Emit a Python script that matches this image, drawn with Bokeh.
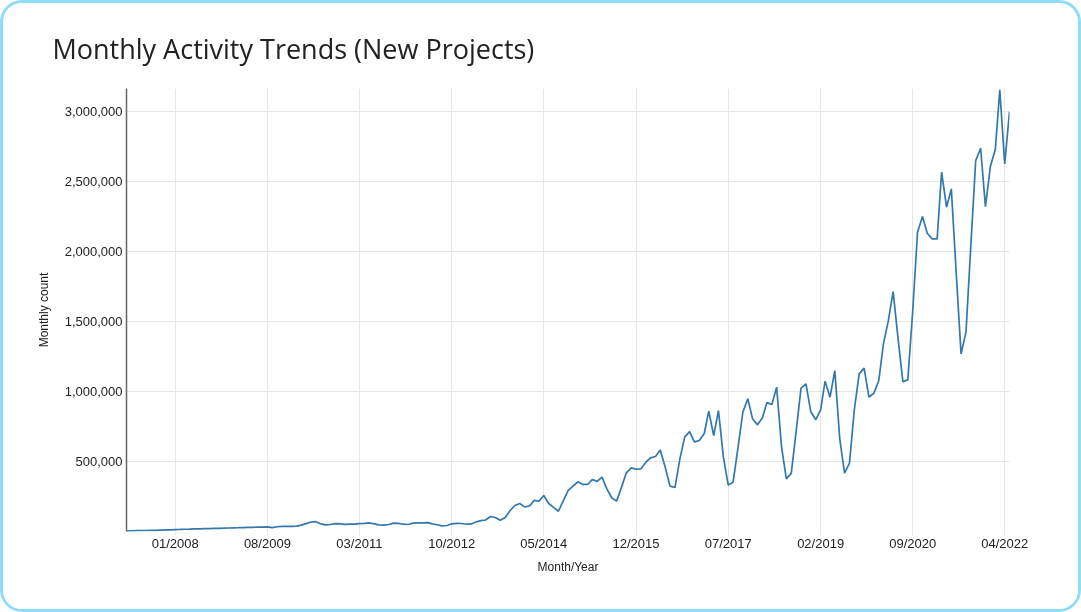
import pandas as pd
from bokeh.plotting import figure
from bokeh.models import Range1d, FixedTicker, DatetimeTickFormatter, NumeralTickFormatter
from bokeh.embed import file_html
from bokeh.resources import INLINE

title_text = "Monthly Activity Trends (New Projects)"
x_label = "Month/Year"
y_label = "Monthly count"
start_month = "2007-03"

monthly_counts = [
    3000, 5000, 6000, 7000, 7000, 8000, 8000, 10000, 11000, 12000,
    14000, 15000, 16000, 17000, 19000, 19000, 20000, 21000, 22000, 22000,
    24000, 25000, 26000, 27000, 28000, 30000, 30000, 32000, 31000, 33000,
    28000, 34000, 36000, 36000, 37000, 38000, 46000, 56000, 68000, 70000,
    55000, 47000, 50000, 56000, 55000, 51000, 52000, 53000, 56000, 58000,
    62000, 55000, 47000, 45000, 50000, 60000, 58000, 52000, 50000, 60000,
    62000, 61000, 63000, 55000, 48000, 40000, 43000, 55000, 58000, 57000,
    52000, 54000, 68000, 78000, 82000, 107000, 100000, 80000, 100000, 148000,
    186000, 200000, 176000, 182000, 222000, 216000, 257000, 200000, 172000, 145000,
    220000, 293000, 325000, 355000, 336000, 336000, 371000, 358000, 388000, 305000,
    241000, 217000, 317000, 419000, 455000, 445000, 448000, 495000, 526000, 536000,
    583000, 459000, 324000, 314000, 519000, 674000, 714000, 640000, 650000, 700000,
    860000, 686000, 864000, 531000, 333000, 352000, 602000, 852000, 948000, 805000,
    762000, 812000, 921000, 907000, 1031000, 602000, 376000, 417000, 721000, 1024000,
    1055000, 857000, 798000, 869000, 1074000, 960000, 1150000, 662000, 417000, 488000,
    876000, 1126000, 1167000, 960000, 988000, 1079000, 1340000, 1507000, 1714000, 1376000,
    1071000, 1083000, 1579000, 2138000, 2250000, 2131000, 2091000, 2091000, 2567000, 2317000,
    2448000, 1841000, 1269000, 1424000, 2055000, 2650000, 2738000, 2321000, 2607000, 2729000,
    3155000, 2626000, 3000000,
]

x_tick_labels = ["01/2008", "08/2009", "03/2011", "10/2012", "05/2014",
                 "12/2015", "07/2017", "02/2019", "09/2020", "04/2022"]
y_ticks = [500000, 1000000, 1500000, 2000000, 2500000, 3000000]

months = pd.date_range(start_month, periods=len(monthly_counts), freq="MS")
tick_ms = [pd.to_datetime(s, format="%m/%Y").timestamp() * 1000 for s in x_tick_labels]

p = figure(
    width=1081, height=612,
    x_axis_type="datetime",
    output_backend="svg", toolbar_location=None,
    x_range=Range1d(months[0], months[-1]),
    y_range=Range1d(0, 3165000),
    min_border_left=123, min_border_right=75,
    min_border_top=85, min_border_bottom=84,
    x_axis_label=x_label, y_axis_label=y_label,
)
p.styles = {"position": "fixed", "left": "0px", "top": "0px",
            "border": "3px solid #8fdcfa", "border-radius": "22px",
            "box-sizing": "border-box", "overflow": "hidden"}

p.title.text = title_text
p.title.text_font = "Open Sans"
p.title.text_font_size = "27px"
p.title.text_font_style = "normal"
p.title.text_color = "#202124"
p.title.align = "left"
p.title.offset = -74
p.title.standoff = 44

p.outline_line_color = None
p.background_fill_color = "white"
p.border_fill_color = "white"

p.line(months, monthly_counts, line_color="#3278ad", line_width=1.7)

# grids
p.grid.grid_line_color = "#e6e6e6"
p.grid.grid_line_width = 1

# y axis
p.yaxis.ticker = FixedTicker(ticks=y_ticks)
p.yaxis.formatter = NumeralTickFormatter(format="0,0")
p.yaxis.major_tick_line_color = None
p.yaxis.minor_tick_line_color = None
p.yaxis.axis_line_color = "#666666"
p.yaxis.axis_line_width = 1.5
p.yaxis.major_label_text_font = "Liberation Sans"
p.yaxis.major_label_text_font_size = "13px"
p.yaxis.major_label_text_color = "#222222"
p.yaxis.major_label_standoff = -2
p.yaxis.axis_label_text_font = "Liberation Sans"
p.yaxis.axis_label_text_font_size = "12px"
p.yaxis.axis_label_text_font_style = "normal"
p.yaxis.axis_label_text_color = "#222222"
p.yaxis.axis_label_standoff = 11

# x axis
fmt = "%m/%Y"
p.xaxis.ticker = FixedTicker(ticks=tick_ms)
p.xaxis.formatter = DatetimeTickFormatter(
    milliseconds=fmt, seconds=fmt, minsec=fmt, minutes=fmt, hourmin=fmt,
    hours=fmt, days=fmt, months=fmt, years=fmt)
p.xaxis.axis_line_color = None
p.xaxis.major_tick_in = 0
p.xaxis.major_tick_out = 4
p.xaxis.major_tick_line_color = "#e6e6e6"
p.xaxis.minor_tick_line_color = None
p.xaxis.major_label_text_font = "Liberation Sans"
p.xaxis.major_label_text_font_size = "13px"
p.xaxis.major_label_text_color = "#222222"
p.xaxis.major_label_standoff = 0
p.xaxis.axis_label_text_font = "Liberation Sans"
p.xaxis.axis_label_text_font_size = "12px"
p.xaxis.axis_label_text_font_style = "normal"
p.xaxis.axis_label_text_color = "#222222"
p.xaxis.axis_label_standoff = 6

open("out.html", "w").write(file_html(p, INLINE))
